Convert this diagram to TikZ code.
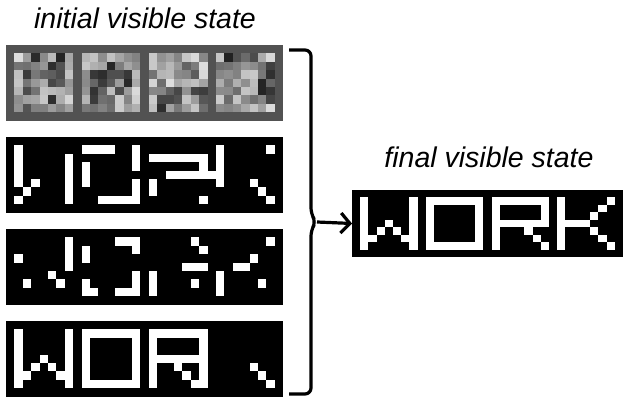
\documentclass[tikz,border=0pt]{standalone}
\usepackage{fontspec}
\setmainfont{Liberation Sans}
\usetikzlibrary{arrows.meta}
\newcommand\pc[2]{\fill[pixc] ({\pxo+#1*\csx},{\pyo+#2*\csy}) rectangle ++(\csx,\csy);}
\newcommand\pv[3]{\foreach \rr in {#2,...,#3}{\pc{#1}{\rr}}}
\newcommand\ph[3]{\foreach \cc in {#1,...,#2}{\pc{\cc}{#3}}}
\newcommand\setpanel[4]{\def\pxo{#1}\def\pyo{#2}\def\csx{#3}\def\csy{#4}}
\newcommand\letW{\pv{1}{1}{7}\pv{7}{1}{7}\pc{4}{4}\pc{3}{5}\pc{5}{5}\pc{2}{6}\pc{6}{6}}
\newcommand\letO{\pv{9}{1}{7}\pv{15}{1}{7}\ph{10}{14}{1}\ph{10}{14}{7}}
\newcommand\letR{\pv{17}{1}{7}\ph{18}{23}{1}\pv{23}{2}{3}\ph{18}{23}{4}\pc{21}{5}\pc{22}{6}\pc{23}{7}}
\newcommand\letK{\pv{25}{1}{7}\pc{31}{1}\pc{30}{2}\pc{29}{3}\ph{26}{28}{4}\pc{29}{5}\pc{30}{6}\pc{31}{7}}
\begin{document}
\begin{tikzpicture}[x=1pt,y=-1pt,
  panelbox/.style={fill=black,minimum width=277pt,minimum height=75.6pt,inner sep=0pt,outer sep=0pt,anchor=north west},
  lbl/.style={font=\fontsize{28.5}{32}\selectfont\itshape},
  pixc/.style={fill=white}]
\useasboundingbox (0,0) rectangle (632,406);
% labels
\node[lbl] (lab1) at (145,18) {initial visible state};
\node[lbl] (lab2) at (489,157) {final visible state};
% panel 1 (noisy)
\node[panelbox,fill=black!68] (p1) at (6,45) {};
\setpanel{6}{45}{8.4}{8.4}
\pgfmathsetseed{7}
\foreach \c in {1,...,31}{\foreach \r in {1,...,7}{%
  \pgfmathtruncatemacro\g{random(20,88)}%
  \ifnum\c=8\else\ifnum\c=16\else\ifnum\c=24\else
  \fill[black!\g] ({\pxo+\c*\csx},{\pyo+\r*\csy}) rectangle ++(\csx,\csy);\fi\fi\fi}}
\begin{scope}[pixc/.style={fill=white,fill opacity=0.35}]
\letW\letO\letR\letK
\end{scope}
% panel 2
\node[panelbox] (p2) at (6,137) {};
\setpanel{6}{137}{8.4}{8.4}
\pv{1}{1}{5}\pc{3}{5}\pc{2}{6}\pc{1}{7}\pv{7}{2}{7}\ph{9}{12}{1}\pv{9}{3}{5}
\pv{15}{1}{3}\pv{15}{5}{7}\ph{11}{14}{7}\pv{17}{5}{6}\ph{17}{23}{2}\pc{23}{3}
\ph{19}{24}{4}\pc{23}{7}\pv{25}{1}{5}\pc{31}{1}\pc{29}{5}\pc{30}{6}\pc{31}{7}
% panel 3
\node[panelbox] (p3) at (6,229) {};
\setpanel{6}{229}{8.4}{8.4}
\pc{1}{3}\pc{2}{6}\pc{5}{5}\pc{6}{6}\pv{7}{1}{4}\pv{9}{2}{3}\pv{9}{6}{7}\pc{10}{7}
\ph{13}{15}{1}\pc{15}{2}\pv{15}{5}{7}\ph{13}{14}{7}\pv{17}{5}{7}\pc{22}{1}\pc{23}{2}
\ph{21}{23}{4}\pc{22}{6}\pv{25}{5}{7}\ph{27}{28}{4}\pc{29}{3}\pc{31}{1}\pc{30}{6}
% panel 4
\node[panelbox] (p4) at (6,321) {};
\setpanel{6}{321}{8.4}{8.4}
\letW\letO
\pv{17}{1}{7}\ph{18}{22}{1}\pv{23}{1}{7}\ph{18}{22}{4}\pc{20}{5}\pc{21}{6}\pc{22}{7}
\pc{29}{5}\pc{30}{6}\pc{31}{7}
% final panel
\node[panelbox,minimum width=271pt,minimum height=67pt] (fin) at (352,190) {};
\setpanel{352}{190}{8.21}{7.44}
\letW\letO\letR\letK
% brace and arrow
\coordinate (btop) at (289,50);
\coordinate (bbot) at (289,394);
\coordinate (tip) at (317,222);
\draw[line width=3.2pt,rounded corners=6pt] (btop) -- (311,50) -- (311,214)
  -- (316,222) -- (311,230) -- (311,394) -- (bbot);
\draw[line width=3.2pt,-{Straight Barb[length=9pt,width=20pt,line width=3.2pt]}] (tip) -- (fin.west);
\end{tikzpicture}
\end{document}
